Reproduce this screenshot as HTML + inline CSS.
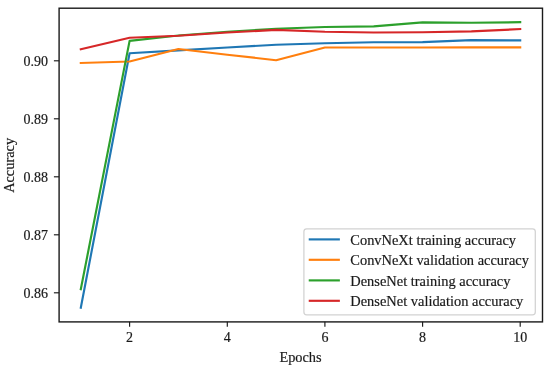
<!DOCTYPE html>
<html lang="en"><head><meta charset="utf-8"><title>Accuracy vs Epochs</title>
<style>html,body{margin:0;padding:0;background:#fff;}svg{display:block;}</style></head>
<body>
<svg width="550" height="368" viewBox="0 0 550 368">
<rect width="550" height="368" fill="#fff"/>
<g font-family="'Liberation Serif', 'Times New Roman', serif" font-size="14.35" fill="#1a1a1a" stroke="#1a1a1a" stroke-width="0.18">
<g fill="none" stroke-width="2.15" stroke-linejoin="round" stroke-linecap="square">
<polyline stroke="#1f77b4" points="80.8,307.7 129.6,53.3 178.4,50.4 227.3,47.5 276.1,44.7 324.9,43.2 373.7,42.3 422.6,42.1 471.4,40.1 520.2,40.4"/>
<polyline stroke="#ff7f0e" points="80.8,63.0 129.6,61.5 178.4,49.0 227.3,54.7 276.1,60.2 324.9,47.5 373.7,47.5 422.6,47.5 471.4,47.4 520.2,47.4"/>
<polyline stroke="#2ca02c" points="80.8,289.2 129.6,40.9 178.4,35.5 227.3,31.8 276.1,28.8 324.9,27.0 373.7,26.4 422.6,22.4 471.4,22.7 520.2,22.2"/>
<polyline stroke="#d62728" points="80.8,49.3 129.6,37.7 178.4,35.7 227.3,32.5 276.1,29.9 324.9,31.8 373.7,32.5 422.6,32.3 471.4,31.4 520.2,29.1"/>
</g>
<g stroke="#1a1a1a" stroke-width="1.15" fill="none">
<line x1="129.6" y1="321.85" x2="129.6" y2="326.75"/>
<line x1="227.3" y1="321.85" x2="227.3" y2="326.75"/>
<line x1="324.9" y1="321.85" x2="324.9" y2="326.75"/>
<line x1="422.6" y1="321.85" x2="422.6" y2="326.75"/>
<line x1="520.2" y1="321.85" x2="520.2" y2="326.75"/>
<line x1="59.1" y1="292.8" x2="53.9" y2="292.8"/>
<line x1="59.1" y1="234.8" x2="53.9" y2="234.8"/>
<line x1="59.1" y1="176.8" x2="53.9" y2="176.8"/>
<line x1="59.1" y1="118.8" x2="53.9" y2="118.8"/>
<line x1="59.1" y1="60.8" x2="53.9" y2="60.8"/>
<rect x="59.1" y="8.2" width="483.4" height="313.7" stroke-width="1.4"/>
</g>
<g font-size="14">
<text x="129.6" y="342.2" text-anchor="middle">2</text>
<text x="227.3" y="342.2" text-anchor="middle">4</text>
<text x="324.9" y="342.2" text-anchor="middle">6</text>
<text x="422.6" y="342.2" text-anchor="middle">8</text>
<text x="520.2" y="342.2" text-anchor="middle">10</text>
<text x="48.0" y="297.5" text-anchor="end">0.86</text>
<text x="48.0" y="239.5" text-anchor="end">0.87</text>
<text x="48.0" y="181.5" text-anchor="end">0.88</text>
<text x="48.0" y="123.5" text-anchor="end">0.89</text>
<text x="48.0" y="65.5" text-anchor="end">0.90</text>
</g>
<text x="300.5" y="361.5" text-anchor="middle">Epochs</text>
<text transform="translate(13.8,165.4) rotate(-90)" text-anchor="middle">Accuracy</text>
<rect x="303.9" y="228.8" width="231.4" height="86.1" rx="2.8" ry="2.8" fill="#fff" fill-opacity="0.8" stroke="#d2d2d2" stroke-width="1.25"/>
<g font-size="14.43">
<line x1="309.8" y1="239.4" x2="338.8" y2="239.4" stroke="#1f77b4" stroke-width="2.15" stroke-linecap="square"/>
<text x="350.3" y="244.7">ConvNeXt training accuracy</text>
<line x1="309.8" y1="259.8" x2="338.8" y2="259.8" stroke="#ff7f0e" stroke-width="2.15" stroke-linecap="square"/>
<text x="350.3" y="265.1">ConvNeXt validation accuracy</text>
<line x1="309.8" y1="280.4" x2="338.8" y2="280.4" stroke="#2ca02c" stroke-width="2.15" stroke-linecap="square"/>
<text x="350.3" y="285.8">DenseNet training accuracy</text>
<line x1="309.8" y1="300.8" x2="338.8" y2="300.8" stroke="#d62728" stroke-width="2.15" stroke-linecap="square"/>
<text x="350.3" y="305.9">DenseNet validation accuracy</text>
</g>
</g></svg>
</body></html>
